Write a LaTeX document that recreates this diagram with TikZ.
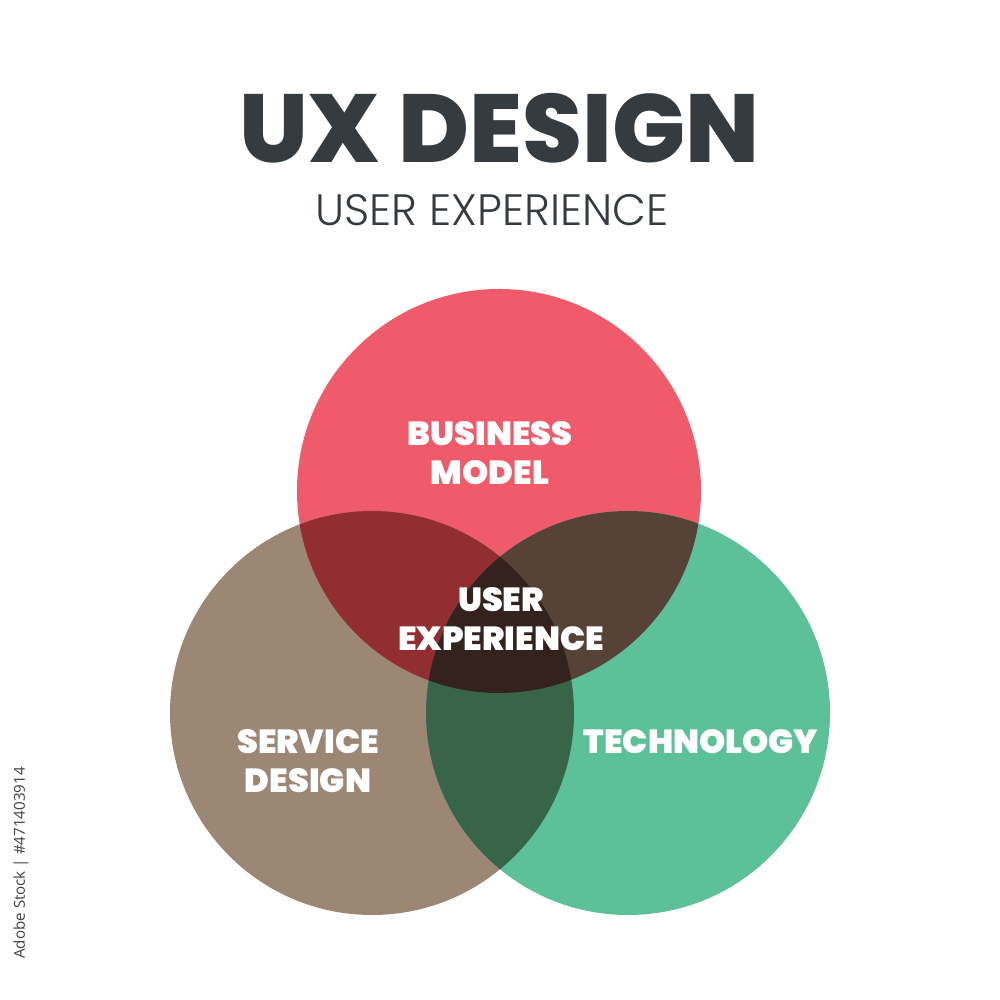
\documentclass[tikz,border=0pt]{standalone}
\usepackage{fontspec}
\newfontfamily\popxb{Poppins ExtraBold}
\newfontfamily\popblack{Poppins Black}
\newfontfamily\poplight{Poppins Light}
\setsansfont{Open Sans}
\definecolor{cred}{HTML}{EF5B6B}
\definecolor{cbrown}{HTML}{9C8674}
\definecolor{cgreen}{HTML}{5CC199}
\definecolor{crb}{HTML}{922D31}
\definecolor{crg}{HTML}{574238}
\definecolor{cbg}{HTML}{386547}
\definecolor{call}{HTML}{33221E}
\definecolor{ctitle}{HTML}{353B3E}
\tikzset{
  lbl/.style={text=white, align=center, font=\popblack\fontsize{9.5}{10.9}\selectfont, inner sep=0pt},
}
\begin{document}
\begin{tikzpicture}[x=1cm,y=1cm]
\useasboundingbox (0,0) rectangle (10,10);
\fill[white] (0,0) rectangle (10,10);
\def\R{2.02}
\coordinate (cr) at (4.99,5.09);
\coordinate (cb) at (3.72,2.87);
\coordinate (cg) at (6.28,2.87);
\fill[cred] (cr) circle (\R);
\fill[cbrown] (cb) circle (\R);
\fill[cgreen] (cg) circle (\R);
\begin{scope}
  \clip (cr) circle (\R);
  \fill[crb] (cb) circle (\R);
  \fill[crg] (cg) circle (\R);
\end{scope}
\begin{scope}
  \clip (cb) circle (\R);
  \fill[cbg] (cg) circle (\R);
  \clip (cg) circle (\R);
  \fill[call] (cr) circle (\R);
\end{scope}
\node[text=ctitle, font=\popxb\fontsize{27.5}{30}\selectfont, inner sep=0pt] (title) at (4.995,8.72) {UX DESIGN};
\node[text=ctitle, font=\poplight\fontsize{12.5}{14}\selectfont, inner sep=0pt] (sub) at (4.92,7.90) {USER EXPERIENCE};
\node[lbl] (bm) at (4.90,5.47) {BUSINESS\\MODEL};
\node[lbl] (ux) at (5.01,3.81) {USER\\EXPERIENCE};
\node[lbl] (sd) at (3.08,2.39) {SERVICE\\DESIGN};
\node[lbl] (tech) at (7.01,2.58) {TECHNOLOGY};
\node[rotate=90, text=black!75, font=\sffamily\fontsize{4.3}{5}\selectfont, inner sep=0pt, anchor=center] (wm) at (0.21,1.37) {Adobe Stock | \#471403914};
\end{tikzpicture}
\end{document}
